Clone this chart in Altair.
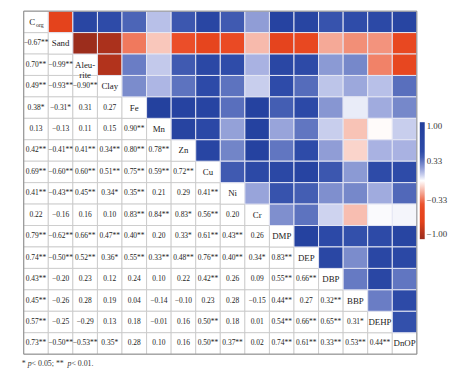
import altair as alt
import pandas as pd

variables = ["C_org", "Sand", "Aleurite", "Clay", "Fe", "Mn", "Zn", "Cu",
             "Ni", "Cr", "DMP", "DEP", "DBP", "BBP", "DEHP", "DnOP"]
diag_labels = ["", "Sand", "Aleu-\nrite", "Clay", "Fe", "Mn", "Zn", "Cu",
               "Ni", "Cr", "DMP", "DEP", "DBP", "BBP", "DEHP", "DnOP"]

# lower-triangle correlation labels (row i, columns 0..i-1)
row_sand = ["-0.67**"]
row_aleurite = ["0.70**", "-0.99**"]
row_clay = ["0.49**", "-0.93**", "-0.90**"]
row_fe = ["0.38*", "-0.31*", "0.31", "0.27"]
row_mn = ["0.13", "-0.13", "0.11", "0.15", "0.90**"]
row_zn = ["0.42**", "-0.41**", "0.41**", "0.34**", "0.80**", "0.78**"]
row_cu = ["0.69**", "-0.60**", "0.60**", "0.51**", "0.75**", "0.59**", "0.72**"]
row_ni = ["0.41**", "-0.43**", "0.45**", "0.34*", "0.35**", "0.21", "0.29", "0.41**"]
row_cr = ["0.22", "-0.16", "0.16", "0.10", "0.83**", "0.84**", "0.83*", "0.56**", "0.20"]
row_dmp = ["0.79**", "-0.62**", "0.66**", "0.47**", "0.40**", "0.20", "0.33*", "0.61**",
           "0.43**", "0.26"]
row_dep = ["0.74**", "-0.50**", "0.52**", "0.36*", "0.55**", "0.33**", "0.48**", "0.76**",
           "0.40**", "0.34*", "0.83**"]
row_dbp = ["0.43**", "-0.20", "0.23", "0.12", "0.24", "0.10", "0.22", "0.42**",
           "0.26", "0.09", "0.55**", "0.66**"]
row_bbp = ["0.45**", "-0.26", "0.28", "0.19", "0.04", "-0.14", "-0.10", "0.23",
           "0.28", "-0.15", "0.44**", "0.27", "0.32**"]
row_dehp = ["0.57**", "-0.25", "-0.29", "0.13", "0.18", "-0.01", "0.16", "0.50**",
            "0.18", "0.01", "0.54**", "0.66**", "0.65**", "0.31*"]
row_dnop = ["0.73**", "-0.50**", "-0.53**", "0.35*", "0.28", "0.10", "0.16", "0.50**",
            "0.37**", "0.02", "0.74**", "0.61**", "0.33**", "0.53**", "0.44**"]

lower_rows = [row_sand, row_aleurite, row_clay, row_fe, row_mn, row_zn, row_cu, row_ni,
              row_cr, row_dmp, row_dep, row_dbp, row_bbp, row_dehp, row_dnop]

legend_values = [1.0, 0.33, -0.33, -1.0]
color_domain = [-1, -0.7, -0.42, 0, 0.15, 0.45, 1]
color_range = ["#9a2c1c", "#e3421b", "#ea4a24", "#ffffff", "#adb6e4", "#2f4ca9", "#213e9c"]

note_parts = ["* ", "p", " < 0.05; ** ", "p", " < 0.01."]
note_styles = ["normal", "italic", "normal", "italic", "normal"]
note_offsets = [-2, 4, 8, 44.5, 48.5]

records = []
for i, row in enumerate(lower_rows, start=1):
    for j, lab in enumerate(row):
        r = float(lab.rstrip("*"))
        records.append(dict(row=variables[i], col=variables[j], r=r,
                            label=lab.replace("-", "\u2212"), part="lower"))
        records.append(dict(row=variables[j], col=variables[i], r=r, label="", part="upper"))
for k, v in enumerate(variables):
    records.append(dict(row=v, col=v, r=1.0, label=diag_labels[k], part="diag"))
records.append(dict(row="C_org", col="C_org", r=1.0, label="C", part="csym"))
records.append(dict(row="C_org", col="C_org", r=1.0, label="org", part="csub"))
df = pd.DataFrame(records)

X = alt.X("col:N", sort=variables, axis=None, scale=alt.Scale(paddingInner=0, paddingOuter=0))
Y = alt.Y("row:N", sort=variables, axis=None, scale=alt.Scale(paddingInner=0, paddingOuter=0))

base = alt.Chart(df).encode(x=X, y=Y)

white_cells = base.transform_filter("datum.part == 'lower' || datum.part == 'diag'").mark_rect(
    fill="white", stroke="#c6c6c6", strokeWidth=0.8)

color_cells = base.transform_filter("datum.part == 'upper'").mark_rect(
    stroke="#e4e7f4", strokeWidth=1).encode(
    color=alt.Color("r:Q",
                    scale=alt.Scale(domain=color_domain, range=color_range, interpolate="rgb"),
                    legend=alt.Legend(title=None, orient="none", legendX=403, legendY=113,
                                      direction="vertical", gradientLength=119,
                                      gradientThickness=5, values=legend_values,
                                      labelExpr="replace(format(datum.value, '.2f'), '-', '\u2212')",
                                      labelFont="Liberation Serif", labelFontSize=9,
                                      labelColor="#333333", labelOffset=2, padding=0,
                                      gradientStrokeWidth=0)))

num_text = base.transform_filter("datum.part == 'lower'").mark_text(
    font="Liberation Serif", fontSize=7.6, color="#222222").encode(text="label:N")

diag_text = base.transform_filter("datum.part == 'diag'").mark_text(
    font="Liberation Serif", fontSize=9, color="#222222", lineBreak="\n",
    lineHeight=10).encode(text="label:N")

csym_text = base.transform_filter("datum.part == 'csym'").mark_text(
    font="Liberation Serif", fontSize=9, color="#222222", dx=-4).encode(text="label:N")
csub_text = base.transform_filter("datum.part == 'csub'").mark_text(
    font="Liberation Serif", fontSize=6, color="#222222", dx=4, dy=3).encode(text="label:N")

frame_df = pd.DataFrame({"k": [0]})
frame = alt.Chart(frame_df).mark_rect(fillOpacity=0, stroke="#8a8a8a", strokeWidth=1).encode(
    x=alt.value(0), x2=alt.value(400), y=alt.value(0), y2=alt.value(349))

note_layers = []
for txt, sty, off in zip(note_parts, note_styles, note_offsets):
    nd = pd.DataFrame({"t": [txt]})
    note_layers.append(
        alt.Chart(nd).mark_text(font="Liberation Serif", fontSize=8, color="#333333",
                                align="left", baseline="middle", fontStyle=sty).encode(
            text="t:N", x=alt.value(off), y=alt.value(359)))

chart = alt.layer(white_cells, color_cells, num_text, diag_text, csym_text, csub_text,
                  frame, *note_layers).properties(
    width=400, height=349,
    padding={"left": 16, "top": 0, "right": 50, "bottom": 18},
    autosize=alt.AutoSizeParams(type="none")
).configure_view(stroke=None)

chart.save("out.html", embed_options={"renderer": "svg", "actions": False})
